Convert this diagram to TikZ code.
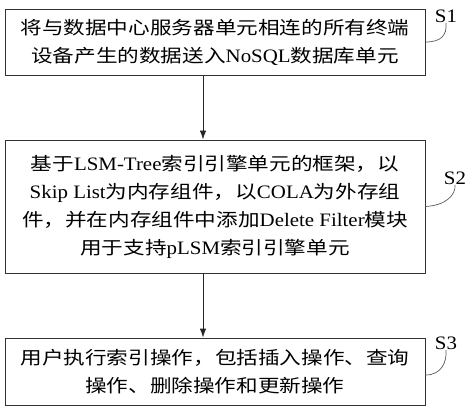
\documentclass[tikz,border=0pt]{standalone}
\usepackage{fontspec}
\setmainfont{Liberation Serif}
\newfontfamily\lat{Liberation Serif}[FakeStretch=1.1]
\newfontfamily\cjk{Noto Sans CJK SC}[FakeStretch=1.2]
\newcommand\zh[1]{{\fontsize{18pt}{28pt}\cjk #1}}
\usetikzlibrary{arrows.meta}
\begin{document}
\begin{tikzpicture}[x=1pt,y=-1pt,
  stepbox/.style={draw=black!80,line width=0.9pt,minimum width=420pt,align=center,inner sep=0pt,
    font={\fontsize{19pt}{28pt}\lat}},
  lab/.style={font={\fontsize{19pt}{20pt}\lat},inner sep=0pt},
  leader/.style={draw=black!65,line width=0.7pt},
  flow/.style={draw=black!85,line width=0.9pt,-{Latex[length=9pt,width=6.5pt]}}]
\useasboundingbox (0,0) rectangle (474,414);
\node[stepbox,minimum height=66pt] (b1) at (215,42)
  {\zh{将与数据中心服务器单元相连的所有终端}\\\zh{设备产生的数据送入}NoSQL\zh{数据库单元}};
\node[stepbox,minimum height=133pt] (b2) at (215,206.5)
  {\zh{基于}LSM-Tree\zh{索引引擎单元的框架，以}\\
   Skip List\zh{为内存组件，以}COLA\zh{为外存组}\\
   \zh{件，并在内存组件中添加}Delete Filter\zh{模块}\\
   \zh{用于支持}pLSM\zh{索引引擎单元}};
\node[stepbox,minimum height=67pt] (b3) at (215,371.5)
  {\zh{用户执行索引操作，包括插入操作、查询}\\\zh{操作、删除操作和更新操作}};
\node[lab,anchor=south] (s1) at (446,23) {S1};
\node[lab,anchor=south] (s2) at (455,185) {S2};
\node[lab,anchor=south] (s3) at (446,350) {S3};
\coordinate (ax) at (203,0);
\draw[flow] (b1.south -| ax) -- (b2.north -| ax);
\draw[flow] (b2.south -| ax) -- (b3.north -| ax);
\draw[leader] (b1.east) .. controls +(16,0) and +(1,12) .. (s1.south);
\draw[leader] (b2.east) .. controls +(20,-1) and +(1,10) .. (s2.south);
\draw[leader] ([yshift=-3.5pt]b3.east) .. controls +(16,0) and +(1,12) .. (s3.south);
\end{tikzpicture}
\end{document}
